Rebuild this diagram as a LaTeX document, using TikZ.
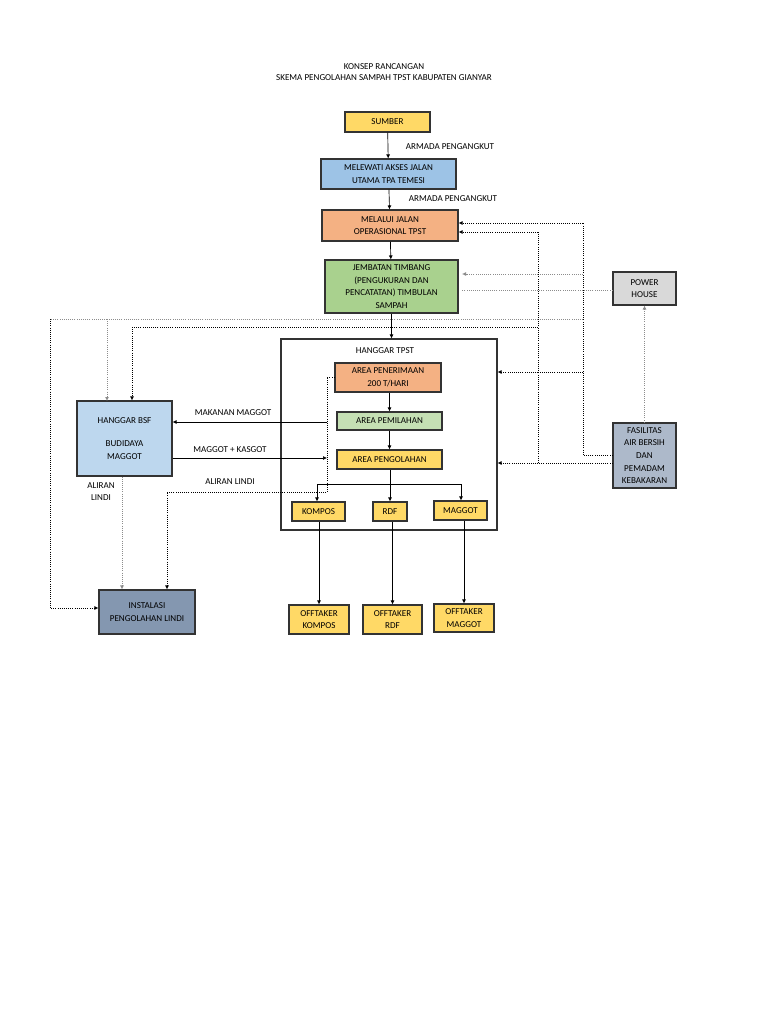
\documentclass[tikz,border=0pt]{standalone}
\usepackage{fontspec}
\setmainfont{Carlito}
\usetikzlibrary{arrows.meta}
\definecolor{cy}{HTML}{FFD966}
\definecolor{cb}{HTML}{9DC3E6}
\definecolor{co}{HTML}{F4B183}
\definecolor{cg}{HTML}{A9D18E}
\definecolor{clg}{HTML}{C5E0B4}
\definecolor{clb}{HTML}{BDD7EE}
\definecolor{ci}{HTML}{8497B0}
\definecolor{cf}{HTML}{ADB9CA}
\definecolor{cp}{HTML}{D9D9D9}
\begin{document}
\begin{tikzpicture}[x=0.75pt,y=-0.75pt,
  box/.style={draw=black!80,line width=0.8pt,align=center,inner sep=0pt,font=\fontsize{6.8}{9.5}\selectfont},
  lbl/.style={font=\fontsize{6.8}{9}\selectfont,align=center,inner sep=0pt},
  ar/.style={-{Latex[length=3pt,width=3pt]},line width=0.5pt},
  dt/.style={densely dotted,line width=0.6pt},
  dg/.style={densely dotted,line width=0.6pt,black!45},
  tip/.style={-{Latex[length=3pt,width=3pt]}}]
\path[use as bounding box,fill=white] (0,0) rectangle (768,1024);
\node[lbl] (t1) at (384,67) {KONSEP RANCANGAN};
\node[lbl] (t2) at (384,78) {SKEMA PENGOLAHAN SAMPAH TPST KABUPATEN GIANYAR};
\newcommand{\bx}[6]{\node[box,fill=#6,minimum width={(#4-#2)*0.75pt},minimum height={(#5-#3)*0.75pt}] (#1) at ({(#2+#4)/2},{(#3+#5)/2})}
\bx{sumber}{345}{112}{430}{132}{cy} {SUMBER};
\bx{melewati}{321}{159}{456}{189}{cb} {MELEWATI AKSES JALAN\\UTAMA TPA TEMESI};
\bx{melalui}{322}{210}{458}{241}{co} {MELALUI JALAN\\OPERASIONAL TPST};
\bx{jemb}{325}{260}{458}{313}{cg} {JEMBATAN TIMBANG\\(PENGUKURAN DAN\\PENCATATAN) TIMBULAN\\SAMPAH};
\bx{hangar}{281}{339}{497}{530}{white} {};
\node[lbl] (hl) at (385,351) {HANGGAR TPST};
\bx{terima}{335}{363}{441}{392}{co} {AREA PENERIMAAN\\200 T/HARI};
\bx{pilah}{337}{412}{442}{430}{clg} {AREA PEMILAHAN};
\bx{olah}{337}{450}{442}{469}{cy} {AREA PENGOLAHAN};
\bx{kompos}{292}{502}{345}{521}{cy} {KOMPOS};
\bx{rdf}{373}{502}{407}{521}{cy} {RDF};
\bx{maggot}{434}{501}{487}{520}{cy} {MAGGOT};
\bx{ok}{289}{605}{349}{634}{cy} {OFFTAKER\\KOMPOS};
\bx{or}{363}{605}{422}{634}{cy} {OFFTAKER\\RDF};
\bx{om}{434}{604}{494}{632}{cy} {OFFTAKER\\MAGGOT};
\bx{bsf}{77}{401}{172}{476}{clb} {HANGGAR BSF\\[8pt]BUDIDAYA\\MAGGOT};
\bx{ipl}{99}{590}{195}{634}{ci} {INSTALASI\\PENGOLAHAN LINDI};
\bx{power}{613}{272}{676}{305}{cp} {POWER\\HOUSE};
\bx{fas}{613}{423}{676}{488}{cf} {FASILITAS\\AIR BERSIH\\DAN\\PEMADAM\\KEBAKARAN};
% labels
\node[lbl] (a1) at (450,147) {ARMADA PENGANGKUT};
\node[lbl] (a2) at (453,199) {ARMADA PENGANGKUT};
\node[lbl] (mm) at (233,413) {MAKANAN MAGGOT};
\node[lbl] (mk) at (230,450) {MAGGOT + KASGOT};
\node[lbl] (al) at (230,482) {ALIRAN LINDI};
\node[lbl] (al2) at (101,492) {ALIRAN\\LINDI};
% solid
\draw[ar] (sumber) -- (melewati);
\draw[ar] (melewati) -- (melalui);
\draw[ar] (melalui) -- (jemb);
\draw[ar] (jemb.south) -- (jemb.south|-hangar.north);
\draw[ar] (terima.south-|pilah) -- (pilah);
\draw[ar] (pilah) -- (olah);
\coordinate (bl) at (317,484); \coordinate (br) at (461,484);
\draw[ar] (olah.south-|rdf) -- (rdf);
\draw[line width=0.5pt] (bl) -- (br);
\draw[ar] (bl) -- (bl|-kompos.north);
\draw[ar] (br) -- (br|-maggot.north);
\draw[ar] (kompos.south-|ok) -- (ok);
\draw[ar] (rdf.south-|or) -- (or);
\draw[ar] (maggot.south-|om) -- (om);
\coordinate (mm0) at (327,422);
\draw[ar] (mm0) -- (mm0-|bsf.east);
\coordinate (mk1) at (327,458);
\draw[ar] (mk1-|bsf.east) -- (mk1);
% dotted right network
\coordinate (v1t) at (583,223); \coordinate (v1b) at (583,455);
\draw[dt] (fas.west|-v1b) -- (v1b) -- (v1t);
\draw[dt,tip] (v1t) -- (v1t-|melalui.east);
\draw[dg,tip] (583,274) -- (462,274);
\draw[dg] (power.west|-0,290) -- (462,290);
\draw[dt,tip] (583,372) -- (hangar.east|-0,372);
\coordinate (v2t) at (538,232); \coordinate (v2b) at (538,463);
\draw[dt] (fas.west|-v2b) -- (v2b) -- (v2t);
\draw[dt,tip] (v2b) -- (v2b-|hangar.east);
\draw[dt,tip] (v2t) -- (v2t-|melalui.east);
\coordinate (h1) at (50,319); \coordinate (h2) at (132,327);
\draw[dg] (583,319) -- (h1);
\draw[dt,tip] (h1) -- (50,608) -- (ipl.west|-0,608);
\draw[dg,tip] (107,319) -- (107,401);
\draw[dt] (538,327) -- (h2);
\draw[dt,tip] (h2) -- (bsf.north-|h2);
\draw[dg,tip] (fas.north-|power) -- (power.south);
% leachate
\draw[dt,tip] (terima.west|-0,377) -- (327,377) -- (327,492) -- (167,492) -- (ipl.north-|167,0);
\draw[dg,tip] (bsf.south-|122,0) -- (ipl.north-|122,0);
\end{tikzpicture}
\end{document}
